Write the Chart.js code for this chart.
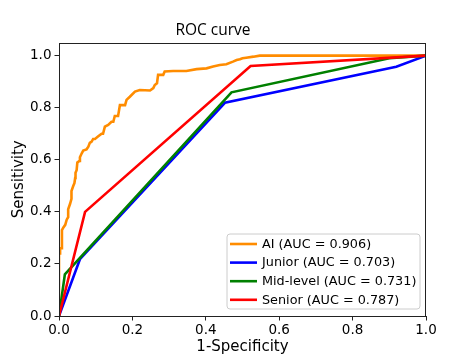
<!DOCTYPE html>
<html>
<head>
<meta charset="utf-8">
<script src="https://cdn.jsdelivr.net/npm/chart.js@4.4.1/dist/chart.umd.min.js"></script>
<style>
  html, body { margin: 0; padding: 0; background: #fff; }
  #wrap { width: 474px; height: 355px; }
</style>
</head>
<body>
<div id="wrap"><canvas id="c" width="474" height="355"></canvas></div>
<script>
// ---- data ----
const seriesNames = ["AI (AUC = 0.906)", "Junior (AUC = 0.703)", "Mid-level (AUC = 0.731)", "Senior (AUC = 0.787)"];
const seriesColors = ["darkorange", "blue", "green", "red"];

const aiX = [0, 0, 0.003, 0.003, 0.008, 0.008, 0.012, 0.017, 0.021, 0.025, 0.025, 0.030, 0.034, 0.034, 0.039, 0.042, 0.044, 0.045, 0.048, 0.050, 0.055, 0.057, 0.062, 0.066, 0.075, 0.080, 0.084, 0.089, 0.093, 0.098, 0.107, 0.116, 0.120, 0.125, 0.134, 0.143, 0.148, 0.152, 0.161, 0.166, 0.180, 0.184, 0.193, 0.207, 0.220, 0.248, 0.257, 0.261, 0.267, 0.270, 0.284, 0.288, 0.311, 0.347, 0.375, 0.402, 0.420, 0.438, 0.456, 0.474, 0.484, 0.493, 0.500, 0.510, 0.530, 0.547, 1.0];
const aiY = [0, 0.24, 0.24, 0.26, 0.26, 0.33, 0.34, 0.35, 0.37, 0.38, 0.41, 0.43, 0.45, 0.48, 0.50, 0.51, 0.53, 0.55, 0.56, 0.59, 0.595, 0.61, 0.625, 0.635, 0.64, 0.65, 0.665, 0.67, 0.68, 0.68, 0.69, 0.70, 0.70, 0.727, 0.734, 0.746, 0.746, 0.768, 0.768, 0.81, 0.81, 0.83, 0.842, 0.862, 0.868, 0.866, 0.875, 0.887, 0.894, 0.926, 0.926, 0.939, 0.941, 0.941, 0.948, 0.951, 0.958, 0.964, 0.967, 0.977, 0.983, 0.986, 0.99, 0.992, 0.996, 1.0, 1.0];

const juniorX = [0, 0.057, 0.452, 0.919, 1.0];
const juniorY = [0, 0.218, 0.819, 0.957, 1.0];

const midX = [0, 0.016, 0.47, 0.90, 1.0];
const midY = [0, 0.16, 0.859, 0.99, 1.0];

const seniorX = [0, 0.071, 0.522, 1.0];
const seniorY = [0, 0.40, 0.96, 1.0];

const xTicks = [0, 0.2, 0.4, 0.6, 0.8, 1.0];
const yTicks = [0, 0.2, 0.4, 0.6, 0.8, 1.0];

const titleText = "ROC curve";
const xLabel = "1-Specificity";
const yLabel = "Sensitivity";

// ---- build ----
function pts(xs, ys) { return xs.map((x, i) => ({ x: x, y: ys[i] })); }
const allX = [aiX, juniorX, midX, seniorX];
const allY = [aiY, juniorY, midY, seniorY];

const datasets = seriesNames.map((name, i) => ({
  label: name,
  data: pts(allX[i], allY[i]),
  borderColor: seriesColors[i],
  backgroundColor: seriesColors[i],
  borderWidth: 2.6,
  pointRadius: 0,
  tension: 0,
  fill: false,
  order: 4 - i
}));

const TICK_FONT = { family: "DejaVu Sans", size: 13.5 };

const frame = {
  id: 'frame',
  afterDatasetsDraw(chart) {
    const a = chart.chartArea, ctx = chart.ctx;
    ctx.save();
    ctx.strokeStyle = '#222';
    ctx.lineWidth = 1;
    ctx.strokeRect(Math.round(a.left) + 0.5, Math.round(a.top) + 0.5, Math.round(a.right - a.left) - 1, Math.round(a.bottom - a.top));
    ctx.restore();
  }
};

const legendBox = {
  id: 'legendBox',
  afterDraw(chart) {
    const ctx = chart.ctx;
    const L = 227, R = 420, T = 234, B = 309, r = 3;
    ctx.save();
    ctx.beginPath();
    ctx.moveTo(L + r, T); ctx.lineTo(R - r, T); ctx.quadraticCurveTo(R, T, R, T + r);
    ctx.lineTo(R, B - r); ctx.quadraticCurveTo(R, B, R - r, B);
    ctx.lineTo(L + r, B); ctx.quadraticCurveTo(L, B, L, B - r);
    ctx.lineTo(L, T + r); ctx.quadraticCurveTo(L, T, L + r, T);
    ctx.closePath();
    ctx.fillStyle = 'rgba(255,255,255,0.85)';
    ctx.fill();
    ctx.strokeStyle = '#cccccc';
    ctx.lineWidth = 1;
    ctx.stroke();
    ctx.font = '12.8px "DejaVu Sans"';
    ctx.textBaseline = 'middle';
    ctx.textAlign = 'left';
    chart.data.datasets.forEach((ds, i) => {
      const y = 244 + i * 18.6;
      ctx.strokeStyle = ds.borderColor;
      ctx.lineWidth = 2.6;
      ctx.beginPath(); ctx.moveTo(230, y); ctx.lineTo(257, y); ctx.stroke();
      ctx.fillStyle = '#000';
      ctx.fillText(ds.label, 262, y + 0.5);
    });
    ctx.restore();
  }
};

new Chart(document.getElementById('c'), {
  type: 'line',
  data: { datasets: datasets },
  options: {
    responsive: false,
    animation: false,
    devicePixelRatio: 1,
    layout: { padding: { left: 0, right: 48, top: 0, bottom: 0 } },
    plugins: {
      legend: { display: false },
      tooltip: { enabled: false },
      title: {
        display: true,
        text: titleText,
        color: '#000',
        font: { family: "Open Sans", size: 15.5, weight: 'normal', lineHeight: 1.2 },
        padding: { top: 21, bottom: 3 }
      }
    },
    scales: {
      x: {
        type: 'linear',
        min: 0, max: 1,
        afterBuildTicks: s => { s.ticks = xTicks.map(v => ({ value: v })); },
        afterFit: s => { s.height = 39; },
        ticks: {
          color: '#000', font: TICK_FONT, padding: 1.5, maxRotation: 0, autoSkip: false,
          callback: v => Number(v).toFixed(1)
        },
        grid: { drawOnChartArea: false, tickLength: 4.5, color: '#222', tickColor: '#222' },
        border: { display: false },
        title: { display: true, text: xLabel, color: '#000', font: { family: "DejaVu Sans", size: 15, lineHeight: 1.1 }, padding: { top: 0, bottom: 0 } }
      },
      y: {
        type: 'linear',
        min: 0, max: 1.05,
        afterBuildTicks: s => { s.ticks = yTicks.map(v => ({ value: v })); },
        afterFit: s => { s.width = 59; },
        ticks: {
          color: '#000', font: TICK_FONT, padding: 3, autoSkip: false,
          callback: v => Number(v).toFixed(1)
        },
        grid: { drawOnChartArea: false, tickLength: 4.5, color: '#222', tickColor: '#222' },
        border: { display: false },
        title: { display: true, text: yLabel, color: '#000', font: { family: "DejaVu Sans", size: 15, lineHeight: 1.1 }, padding: { top: 11, bottom: 0 } }
      }
    }
  },
  plugins: [frame, legendBox]
});
</script>
</body>
</html>
